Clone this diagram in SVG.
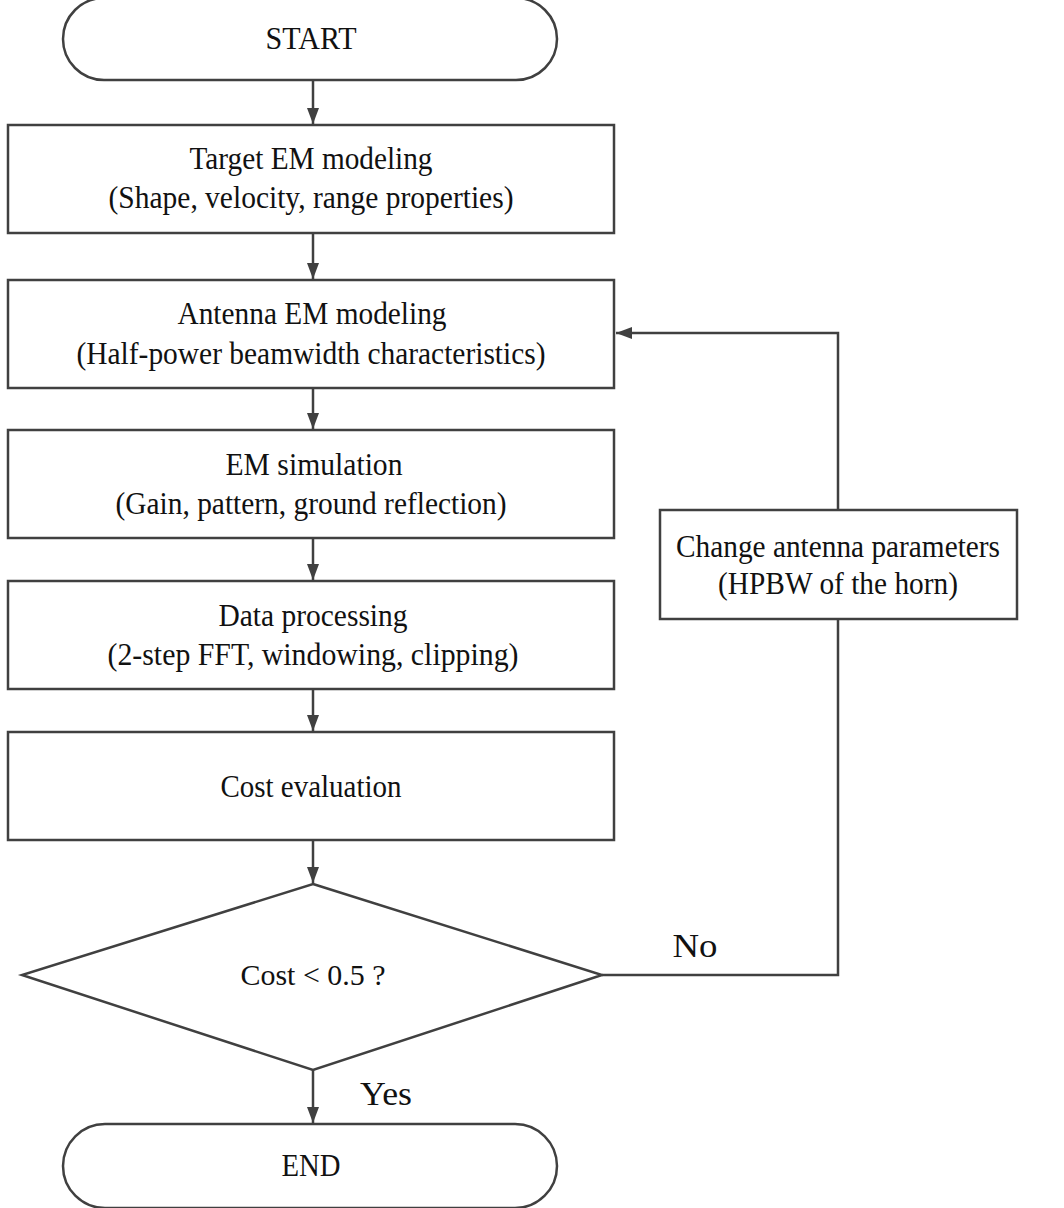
<svg xmlns="http://www.w3.org/2000/svg" width="1064" height="1208" viewBox="0 0 1064 1208">
<style>
.s{fill:#fff;stroke:#404040;stroke-width:2.5}
.t{font-family:"Liberation Serif","Times New Roman",serif;font-size:32px;fill:#111;text-anchor:middle}
.c{fill:none;stroke:#404040;stroke-width:2.5}
</style>
<defs>
<marker id="ah" viewBox="0 0 16 12" refX="16" refY="6" markerWidth="16" markerHeight="12" markerUnits="userSpaceOnUse" orient="auto">
<path d="M0,0 L16,6 L0,12 Z" fill="#404040"/>
</marker>
</defs>
<rect width="1064" height="1208" fill="#fff"/>
<g id="connectors">
<line class="c" x1="313" y1="80" x2="313" y2="124" marker-end="url(#ah)"/>
<line class="c" x1="313" y1="233" x2="313" y2="279" marker-end="url(#ah)"/>
<line class="c" x1="313" y1="388" x2="313" y2="429" marker-end="url(#ah)"/>
<line class="c" x1="313" y1="538" x2="313" y2="580" marker-end="url(#ah)"/>
<line class="c" x1="313" y1="689" x2="313" y2="731" marker-end="url(#ah)"/>
<line class="c" x1="313" y1="840" x2="313" y2="883" marker-end="url(#ah)"/>
<line class="c" x1="313" y1="1070" x2="313" y2="1123" marker-end="url(#ah)"/>
<polyline class="c" points="602,975 838,975 838,619"/>
<polyline class="c" points="838,510 838,333 616,333" marker-end="url(#ah)"/>
</g>
<g id="start">
<rect class="s" x="63" y="-2" width="494" height="82" rx="41" ry="41"/>
<text class="t" x="311" y="49" textLength="91" lengthAdjust="spacingAndGlyphs">START</text>
</g>
<g id="target">
<rect class="s" x="8" y="125" width="606" height="108"/>
<text class="t" x="311" y="169" textLength="243" lengthAdjust="spacingAndGlyphs">Target EM modeling</text>
<text class="t" x="311" y="208" textLength="405" lengthAdjust="spacingAndGlyphs">(Shape, velocity, range properties)</text>
</g>
<g id="antenna">
<rect class="s" x="8" y="280" width="606" height="108"/>
<text class="t" x="312" y="324" textLength="269" lengthAdjust="spacingAndGlyphs">Antenna EM modeling</text>
<text class="t" x="311" y="364" textLength="469" lengthAdjust="spacingAndGlyphs">(Half-power beamwidth characteristics)</text>
</g>
<g id="emsim">
<rect class="s" x="8" y="430" width="606" height="108"/>
<text class="t" x="314" y="475" textLength="177" lengthAdjust="spacingAndGlyphs">EM simulation</text>
<text class="t" x="311" y="514" textLength="391" lengthAdjust="spacingAndGlyphs">(Gain, pattern, ground reflection)</text>
</g>
<g id="dataproc">
<rect class="s" x="8" y="581" width="606" height="108"/>
<text class="t" x="313" y="626" textLength="189" lengthAdjust="spacingAndGlyphs">Data processing</text>
<text class="t" x="313" y="665" textLength="411" lengthAdjust="spacingAndGlyphs">(2-step FFT, windowing, clipping)</text>
</g>
<g id="costeval">
<rect class="s" x="8" y="732" width="606" height="108"/>
<text class="t" x="311" y="797" textLength="181" lengthAdjust="spacingAndGlyphs">Cost evaluation</text>
</g>
<g id="decision">
<polygon class="s" points="313,884 602,975 313,1070 22,975"/>
<text class="t" x="313" y="985" style="font-size:29px" textLength="145" lengthAdjust="spacingAndGlyphs">Cost &lt; 0.5 ?</text>
</g>
<g id="change">
<rect class="s" x="660" y="510" width="357" height="109"/>
<text class="t" x="838" y="557" textLength="324" lengthAdjust="spacingAndGlyphs">Change antenna parameters</text>
<text class="t" x="838" y="594" textLength="240" lengthAdjust="spacingAndGlyphs">(HPBW of the horn)</text>
</g>
<g id="labels">
<text class="t" x="695" y="957" style="font-size:33px" textLength="45" lengthAdjust="spacingAndGlyphs">No</text>
<text class="t" x="386" y="1105" style="font-size:33px" textLength="52" lengthAdjust="spacingAndGlyphs">Yes</text>
</g>
<g id="end">
<rect class="s" x="63" y="1124" width="494" height="84" rx="42" ry="42"/>
<text class="t" x="311" y="1176" textLength="59" lengthAdjust="spacingAndGlyphs">END</text>
</g>
</svg>
